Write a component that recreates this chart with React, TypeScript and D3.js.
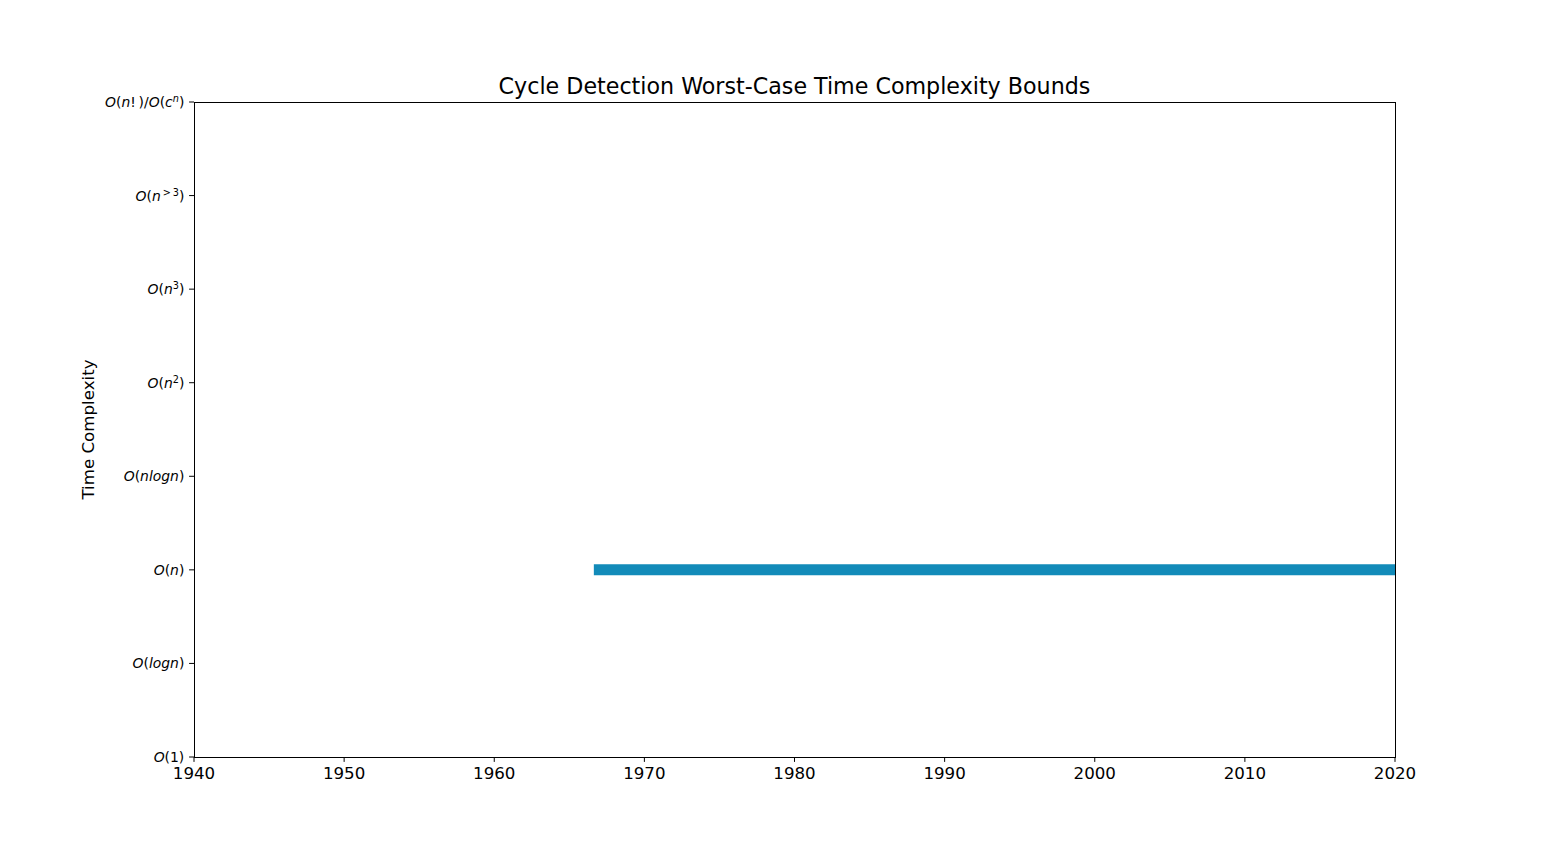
import React from "react";
import * as d3 from "d3";

const W = 1550;
const H = 850;

const complexityLevels: string[] = ["O(1)", "O(logn)", "O(n)", "O(nlogn)", "O(n^2)", "O(n^3)", "O(n^>3)", "O(n!)/O(c^n)"];
const xTicks: number[] = [1940, 1950, 1960, 1970, 1980, 1990, 2000, 2010, 2020];
const boundYears: number[] = [1967, 2025];
const boundLevels: number[] = [2, 2];

const margin = { left: 194, right: 1395, top: 102, bottom: 757 };

type Seg = { t: string; it?: boolean; sup?: boolean };

const labelSegs: Record<string, Seg[]> = {
  "O(1)": [{ t: "O", it: true }, { t: "(1)" }],
  "O(logn)": [{ t: "O", it: true }, { t: "(" }, { t: "logn", it: true }, { t: ")" }],
  "O(n)": [{ t: "O", it: true }, { t: "(" }, { t: "n", it: true }, { t: ")" }],
  "O(nlogn)": [{ t: "O", it: true }, { t: "(" }, { t: "nlogn", it: true }, { t: ")" }],
  "O(n^2)": [{ t: "O", it: true }, { t: "(" }, { t: "n", it: true }, { t: "2", sup: true }, { t: ")" }],
  "O(n^3)": [{ t: "O", it: true }, { t: "(" }, { t: "n", it: true }, { t: "3", sup: true }, { t: ")" }],
  "O(n^>3)": [{ t: "O", it: true }, { t: "(" }, { t: "n", it: true }, { t: "\u2009>\u20093", sup: true }, { t: ")" }],
  "O(n!)/O(c^n)": [
    { t: "O", it: true }, { t: "(" }, { t: "n", it: true }, { t: "!\u2009)/" },
    { t: "O", it: true }, { t: "(" }, { t: "c", it: true }, { t: "n", it: true, sup: true }, { t: ")" },
  ],
};

function MathLabel({ segs, x, y }: { segs: Seg[]; x: number; y: number }) {
  const out: React.ReactNode[] = [];
  let prevSup = false;
  segs.forEach((s, i) => {
    let dy = 0;
    if (s.sup && !prevSup) dy = -5;
    else if (!s.sup && prevSup) dy = 5;
    prevSup = !!s.sup;
    out.push(
      <tspan
        key={i}
        dy={dy}
        fontStyle={s.it ? "italic" : "normal"}
        fontSize={s.sup ? 9.7 : 13.9}
      >
        {s.t}
      </tspan>
    );
  });
  return (
    <text x={x} y={y} textAnchor="end" fontSize={13.9} fill="#000">
      {out}
    </text>
  );
}

export default function App() {
  const x = d3.scaleLinear().domain([1940, 2020]).range([margin.left, margin.right]);
  const y = d3.scaleLinear().domain([0, complexityLevels.length - 1]).range([margin.bottom, margin.top]);

  const lineGen = d3
    .line<number>()
    .x((_, i) => x(boundYears[i]))
    .y((_, i) => y(boundLevels[i]))
    .curve(d3.curveStepAfter);

  const font = "'DejaVu Sans', sans-serif";

  return (
    <svg
      width={W}
      height={H}
      style={{ position: "absolute", left: 0, top: 0, background: "#fff" }}
      fontFamily={font}
    >
      <defs>
        <clipPath id="plotclip">
          <rect x={margin.left} y={margin.top} width={margin.right - margin.left} height={margin.bottom - margin.top} />
        </clipPath>
      </defs>
      <rect x={0} y={0} width={W} height={H} fill="#fff" />

      <path
        d={lineGen(boundYears) || ""}
        fill="none"
        stroke="#128bb9"
        strokeWidth={11}
        strokeLinecap="square"
        clipPath="url(#plotclip)"
      />

      <rect
        x={margin.left}
        y={margin.top}
        width={margin.right - margin.left}
        height={margin.bottom - margin.top}
        fill="none"
        stroke="#000"
        strokeWidth={1}
        shapeRendering="crispEdges"
      />

      {xTicks.map((t) => (
        <g key={t}>
          <line x1={x(t)} x2={x(t)} y1={margin.bottom} y2={margin.bottom + 4.9} stroke="#000" strokeWidth={1} />
          <text x={x(t)} y={margin.bottom + 22} textAnchor="middle" fontSize={16.67} fill="#000">
            {t}
          </text>
        </g>
      ))}

      {complexityLevels.map((lab, i) => (
        <g key={lab}>
          <line x1={margin.left - 4.9} x2={margin.left} y1={y(i)} y2={y(i)} stroke="#000" strokeWidth={1} />
          <MathLabel segs={labelSegs[lab]} x={margin.left - 9.7} y={y(i) + 5} />
        </g>
      ))}

      <text
        transform={`translate(94,${(margin.top + margin.bottom) / 2}) rotate(-90)`}
        textAnchor="middle"
        fontSize={16.67}
        fill="#000"
      >
        Time Complexity
      </text>

      <text x={(margin.left + margin.right) / 2} y={94} textAnchor="middle" fontSize={22.2} fill="#000">
        Cycle Detection Worst-Case Time Complexity Bounds
      </text>
    </svg>
  );
}
